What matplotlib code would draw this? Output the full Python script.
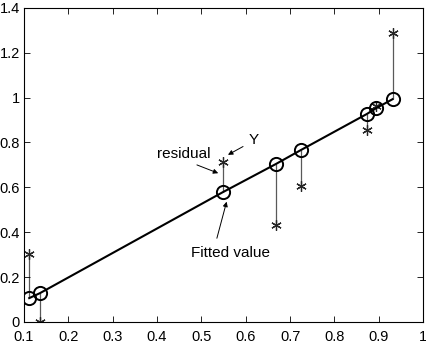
import matplotlib
matplotlib.use("Agg")
import matplotlib.pyplot as plt

# data
x = [0.112, 0.136, 0.548, 0.668, 0.725, 0.873, 0.894, 0.931]
y_obs = [0.303, 0.0, 0.712, 0.432, 0.606, 0.856, 0.963, 1.287]
y_fit = [0.106, 0.128, 0.578, 0.704, 0.767, 0.927, 0.953, 0.993]

xticks = [0.1, 0.2, 0.3, 0.4, 0.5, 0.6, 0.7, 0.8, 0.9, 1.0]
xtick_labels = ["0.1", "0.2", "0.3", "0.4", "0.5", "0.6", "0.7", "0.8", "0.9", "1"]
yticks = [0, 0.2, 0.4, 0.6, 0.8, 1.0, 1.2, 1.4]
ytick_labels = ["0", "0.2", "0.4", "0.6", "0.8", "1", "1.2", "1.4"]

plt.rcParams["font.family"] = ["Liberation Sans", "DejaVu Sans"]
plt.rcParams["font.size"] = 10.5

fig = plt.figure(figsize=(4.27, 3.45), dpi=100)
ax = fig.add_axes([0.056, 0.067, 0.935, 0.910])

# residual segments
ax.vlines(x, y_fit, y_obs, color="0.35", lw=0.9, zorder=1)
# fitted line with circles
ax.plot(x, y_fit, color="black", lw=1.5, marker="o", markersize=9.5,
        markerfacecolor="none", markeredgewidth=1.4, zorder=3)
# observed values
ax.plot(x, y_obs, linestyle="none", marker=(6, 2, 0), markersize=7.5,
        color="0.15", markeredgewidth=0.9, zorder=2)

# annotations
arrow = dict(arrowstyle="-|>", color="black", lw=0.7, mutation_scale=7,
             shrinkA=0, shrinkB=0)
ax.text(0.461, 0.749, "residual", ha="center", va="center", fontsize=11)
ax.annotate("", xy=(0.538, 0.663), xytext=(0.490, 0.700), arrowprops=arrow)
ax.text(0.619, 0.811, "Y", ha="center", va="center", fontsize=11)
ax.annotate("", xy=(0.560, 0.745), xytext=(0.594, 0.782), arrowprops=arrow)
ax.text(0.565, 0.308, "Fitted value", ha="center", va="center", fontsize=11)
ax.annotate("", xy=(0.557, 0.536), xytext=(0.535, 0.373), arrowprops=arrow)

ax.set_xlim(0.1, 1.0)
ax.set_ylim(0, 1.4)
ax.set_xticks(xticks)
ax.set_xticklabels(xtick_labels)
ax.set_yticks(yticks)
ax.set_yticklabels(ytick_labels)
ax.tick_params(direction="in", top=True, right=True, length=4, width=0.6)
ax.tick_params(axis="x", pad=5.5)
ax.tick_params(axis="y", pad=3)
for s in ax.spines.values():
    s.set_linewidth(0.8)

fig.savefig("out.png", dpi=100)
